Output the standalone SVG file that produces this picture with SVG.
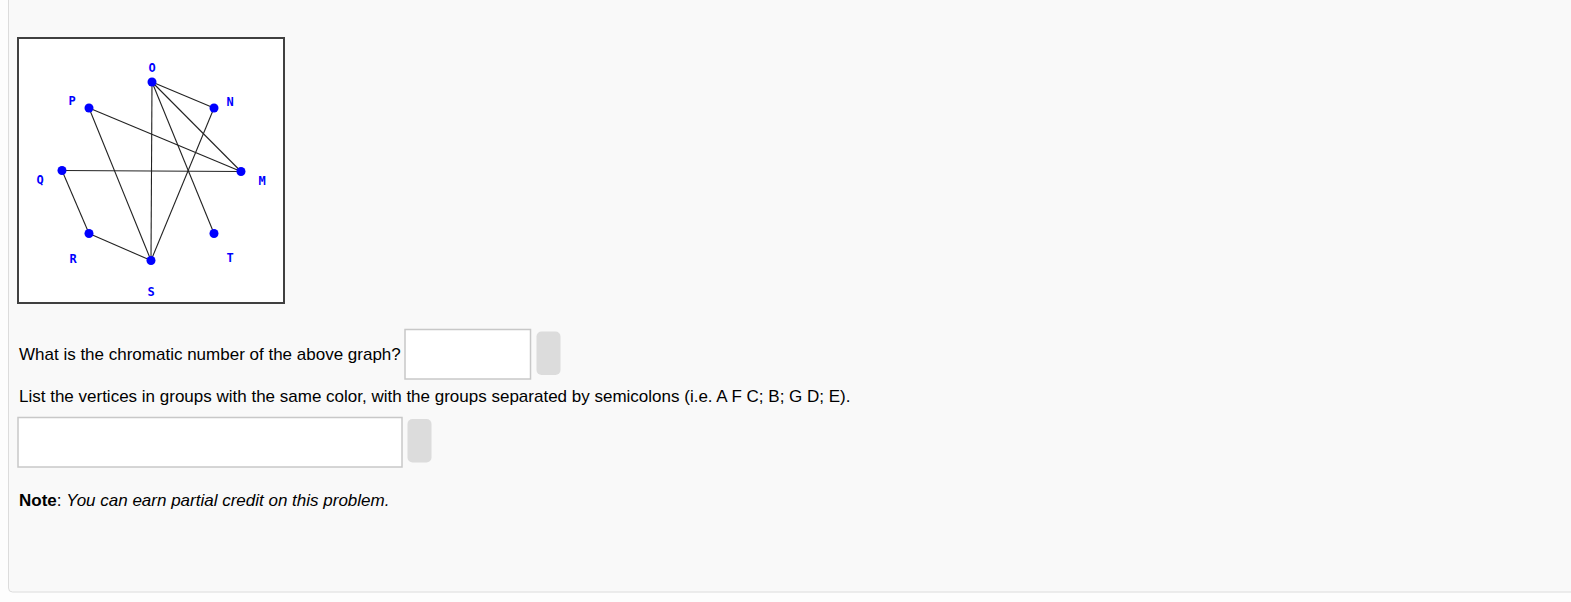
<svg xmlns="http://www.w3.org/2000/svg" width="1571" height="602" viewBox="0 0 1571 602">
<style>
.edge{stroke:#222;stroke-width:1.1;fill:none}
.dot{fill:#0000ff}
.lbl{font-family:"DejaVu Sans Mono","Liberation Mono",monospace;font-weight:bold;font-size:12px;fill:#0000ff;text-anchor:middle}
.txt{font-family:"Liberation Sans",Arial,sans-serif;font-size:17px;fill:#000}
.inp{fill:#fff;stroke:#c8c8c8;stroke-width:1.5}
.btn{fill:#dcdcdc}
</style>
<rect x="0" y="0" width="1571" height="602" fill="#fdfdfd"/>
<rect x="8.5" y="-10" width="1575" height="602" rx="4" fill="#f9f9f9" stroke="#dcdcdc" stroke-width="1"/>
<g id="graph-frame">
<rect x="18" y="38" width="266" height="265" fill="#fff" stroke="#404040" stroke-width="2"/>
</g>
<g id="edges">
<line class="edge" x1="152" y1="82" x2="214" y2="108"/>
<line class="edge" x1="152" y1="82" x2="241" y2="171.5"/>
<line class="edge" x1="152" y1="82" x2="214" y2="233.5"/>
<line class="edge" x1="152" y1="82" x2="151" y2="260.5"/>
<line class="edge" x1="214" y1="108" x2="151" y2="260.5"/>
<line class="edge" x1="89" y1="108" x2="241" y2="171.5"/>
<line class="edge" x1="89" y1="108" x2="151" y2="260.5"/>
<line class="edge" x1="62" y1="170.5" x2="241" y2="171.5"/>
<line class="edge" x1="62" y1="170.5" x2="89" y2="233.5"/>
<line class="edge" x1="89" y1="233.5" x2="151" y2="260.5"/>
</g>
<g id="node-O"><circle class="dot" cx="152" cy="82" r="4.5"/><text class="lbl" x="152" y="72">O</text></g>
<g id="node-N"><circle class="dot" cx="214" cy="108" r="4.5"/><text class="lbl" x="230" y="105.5">N</text></g>
<g id="node-P"><circle class="dot" cx="89" cy="108" r="4.5"/><text class="lbl" x="72" y="104.5">P</text></g>
<g id="node-Q"><circle class="dot" cx="62" cy="170.5" r="4.5"/><text class="lbl" x="40" y="183.5">Q</text></g>
<g id="node-M"><circle class="dot" cx="241" cy="171.5" r="4.5"/><text class="lbl" x="262" y="184.5">M</text></g>
<g id="node-R"><circle class="dot" cx="89" cy="233.5" r="4.5"/><text class="lbl" x="73" y="262.5">R</text></g>
<g id="node-T"><circle class="dot" cx="214" cy="233.5" r="4.5"/><text class="lbl" x="230" y="262">T</text></g>
<g id="node-S"><circle class="dot" cx="151" cy="260.5" r="4.5"/><text class="lbl" x="151" y="295.5">S</text></g>
<g id="question">
<text class="txt" x="19" y="360">What is the chromatic number of the above graph?</text>
<rect class="inp" x="405" y="329.5" width="125.5" height="49.5"/>
<rect class="btn" x="536.5" y="331.5" width="24" height="43.5" rx="5"/>
<text class="txt" x="19" y="402">List the vertices in groups with the same color, with the groups separated by semicolons (i.e. A F C; B; G D; E).</text>
<rect class="inp" x="18" y="417.5" width="384" height="49.5"/>
<rect class="btn" x="407.5" y="419" width="24" height="43.5" rx="5"/>
<text class="txt" x="19" y="506"><tspan font-weight="bold">Note</tspan>: <tspan font-style="italic">You can earn partial credit on this problem.</tspan></text>
</g>
</svg>
